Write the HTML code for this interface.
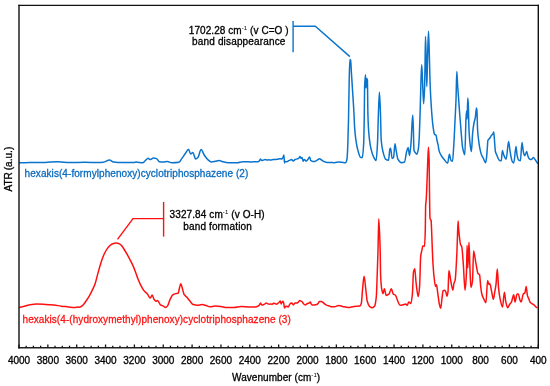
<!DOCTYPE html>
<html><head><meta charset="utf-8"><style>
html,body{margin:0;padding:0;background:#fff;}
body{width:550px;height:386px;overflow:hidden;}
svg{display:block;}
text{font-family:"Liberation Sans",Arial,sans-serif;font-size:10px;fill:#000;stroke:#000;stroke-width:0.3px;}
tspan.s{stroke-width:0;}
</style></head><body>
<svg width="550" height="386" viewBox="0 0 550 386">
<rect x="0" y="0" width="550" height="386" fill="#fff"/>
<g id="curves">
<path fill="none" stroke="#0a74cc" stroke-width="1.5" stroke-linejoin="round" d="M19.00,162.80C22.67,162.73 26.33,162.66 30.00,162.60C35.00,162.52 40.00,162.50 45.00,162.40C49.33,162.31 53.67,161.80 58.00,161.80C62.00,161.80 66.00,162.50 70.00,162.50C75.00,162.50 80.00,162.30 85.00,162.30C89.67,162.30 94.33,162.50 99.00,162.50C100.47,162.50 101.93,162.41 103.40,162.30C105.43,162.14 107.47,160.10 109.50,160.10C110.83,160.10 112.17,161.89 113.50,162.10C114.97,162.33 116.43,162.50 117.90,162.50C123.27,162.50 128.63,162.50 134.00,162.50C134.70,162.50 135.40,162.10 136.10,162.10C138.27,162.10 140.43,162.80 142.60,162.80C143.57,162.80 144.53,161.19 145.50,160.40C146.40,159.66 147.30,158.20 148.20,158.20C148.77,158.20 149.33,159.60 149.90,159.60C151.10,159.60 152.30,158.00 153.50,158.00C154.50,158.00 155.50,158.26 156.50,158.60C157.47,158.93 158.43,161.65 159.40,161.80C160.60,161.99 161.80,162.10 163.00,162.10C164.47,162.10 165.93,161.50 167.40,161.50C168.83,161.50 170.27,162.80 171.70,162.80C174.13,162.80 176.57,162.66 179.00,162.30C179.97,162.16 180.93,159.73 181.90,158.40C183.10,156.75 184.30,154.95 185.50,153.30C186.50,151.93 187.50,149.30 188.50,149.30C189.20,149.30 189.90,154.00 190.60,154.00C191.33,154.00 192.07,152.50 192.80,152.50C193.77,152.50 194.73,159.10 195.70,159.10C196.43,159.10 197.17,158.36 197.90,157.60C198.97,156.50 200.03,149.60 201.10,149.60C202.23,149.60 203.37,153.89 204.50,155.50C205.70,157.20 206.90,158.83 208.10,159.80C209.30,160.77 210.50,162.00 211.70,162.00C212.93,162.00 214.17,161.54 215.40,161.30C216.73,161.04 218.07,160.50 219.40,160.50C220.47,160.50 221.53,161.44 222.60,161.70C224.57,162.18 226.53,162.70 228.50,162.70C231.40,162.70 234.30,162.70 237.20,162.70C239.13,162.70 241.07,161.70 243.00,161.70C245.90,161.70 248.80,162.00 251.70,162.00C252.80,162.00 253.90,161.70 255.00,161.70C255.97,161.70 256.93,161.70 257.90,161.70C258.40,161.70 258.90,161.31 259.40,160.90C259.77,160.60 260.13,159.10 260.50,159.10C260.83,159.10 261.17,160.40 261.50,160.40C262.00,160.40 262.50,160.29 263.00,160.20C263.73,160.07 264.47,159.50 265.20,159.50C265.80,159.50 266.40,160.00 267.00,160.00C267.60,160.00 268.20,159.80 268.80,159.80C269.53,159.80 270.27,160.00 271.00,160.00C271.73,160.00 272.47,159.65 273.20,159.60C273.93,159.55 274.67,159.55 275.40,159.50C276.10,159.46 276.80,159.39 277.50,159.30C278.23,159.20 278.97,158.80 279.70,158.80C280.20,158.80 280.70,158.90 281.20,158.90C281.57,158.90 281.93,158.72 282.30,158.50C282.53,158.36 282.77,157.94 283.00,157.50C283.30,156.93 283.60,154.90 283.90,154.90C284.10,154.90 284.30,162.90 284.50,162.90C284.83,162.90 285.17,161.50 285.50,161.50C286.00,161.50 286.50,161.80 287.00,161.80C287.50,161.80 288.00,160.94 288.50,160.70C288.97,160.48 289.43,160.38 289.90,160.20C290.43,159.99 290.97,159.50 291.50,159.50C292.10,159.50 292.70,161.10 293.30,161.10C293.90,161.10 294.50,159.75 295.10,159.50C295.83,159.19 296.57,159.13 297.30,158.90C297.77,158.75 298.23,158.67 298.70,158.40C299.13,158.15 299.57,156.50 300.00,156.50C300.30,156.50 300.60,158.20 300.90,158.20C301.27,158.20 301.63,157.60 302.00,157.60C302.37,157.60 302.73,161.30 303.10,161.30C303.47,161.30 303.83,159.50 304.20,159.50C304.57,159.50 304.93,159.87 305.30,160.20C305.57,160.44 305.83,161.30 306.10,161.30C306.67,161.30 307.23,160.19 307.80,159.50C308.40,158.77 309.00,156.90 309.60,156.90C309.97,156.90 310.33,160.15 310.70,160.50C311.20,160.98 311.70,161.15 312.20,161.30C312.67,161.44 313.13,161.60 313.60,161.60C314.23,161.60 314.87,161.33 315.50,161.10C316.20,160.84 316.90,160.22 317.60,159.80C318.23,159.42 318.87,158.70 319.50,158.70C319.97,158.70 320.43,159.19 320.90,159.50C321.50,159.89 322.10,160.55 322.70,160.90C323.43,161.32 324.17,161.68 324.90,161.90C325.63,162.12 326.37,162.40 327.10,162.40C328.07,162.40 329.03,162.40 330.00,162.40C331.53,162.40 333.07,162.70 334.60,162.70C336.07,162.70 337.53,162.00 339.00,162.00C339.97,162.00 340.93,162.20 341.90,162.30C343.10,162.43 344.30,162.70 345.50,162.70C346.00,162.70 346.50,161.34 347.00,159.00C347.27,157.75 347.53,151.31 347.80,145.00C348.03,139.48 348.27,130.26 348.50,120.00C348.73,109.74 348.97,89.04 349.20,80.00C349.43,70.96 349.67,59.50 349.90,59.50C350.13,59.50 350.37,59.77 350.60,60.20C350.87,60.69 351.13,68.37 351.40,72.50C351.87,79.73 352.33,86.94 352.80,94.40C353.20,100.80 353.60,106.14 354.00,114.00C354.17,117.27 354.33,123.00 354.50,125.60C354.90,131.85 355.30,135.74 355.70,138.70C356.43,144.13 357.17,147.88 357.90,150.40C358.87,153.73 359.83,157.60 360.80,157.60C361.30,157.60 361.80,157.60 362.30,157.60C362.77,157.60 363.23,151.82 363.70,143.10C363.90,139.36 364.10,127.04 364.30,114.00C364.40,107.48 364.50,89.70 364.60,87.00C364.90,78.89 365.20,74.70 365.50,74.70C365.67,74.70 365.83,88.00 366.00,88.00C366.23,88.00 366.47,78.40 366.70,78.40C366.93,78.40 367.17,78.84 367.40,79.80C367.57,80.48 367.73,108.36 367.90,114.00C368.20,124.15 368.50,129.42 368.80,132.90C369.53,141.40 370.27,145.72 371.00,148.90C371.97,153.09 372.93,155.86 373.90,157.60C374.63,158.92 375.37,160.50 376.10,160.50C376.57,160.50 377.03,151.76 377.50,143.10C377.80,137.53 378.10,121.84 378.40,114.00C378.73,105.29 379.07,92.20 379.40,92.20C379.77,92.20 380.13,104.28 380.50,114.00C380.73,120.19 380.97,137.46 381.20,140.20C381.93,148.81 382.67,150.54 383.40,153.30C384.10,155.93 384.80,158.59 385.50,159.10C386.50,159.83 387.50,160.30 388.50,160.30C388.97,160.30 389.43,149.56 389.90,148.90C390.13,148.57 390.37,148.30 390.60,148.30C391.10,148.30 391.60,158.40 392.10,158.40C392.57,158.40 393.03,158.10 393.50,157.60C394.00,157.07 394.50,143.80 395.00,143.80C395.33,143.80 395.67,147.80 396.00,149.60C396.63,153.03 397.27,157.97 397.90,159.10C399.10,161.25 400.30,162.70 401.50,162.70C402.50,162.70 403.50,162.47 404.50,162.00C405.20,161.67 405.90,154.29 406.60,151.80C407.10,150.02 407.60,147.50 408.10,147.50C408.57,147.50 409.03,155.50 409.50,155.50C410.00,155.50 410.50,148.86 411.00,143.10C411.40,138.49 411.80,125.87 412.20,121.30C412.43,118.63 412.67,115.20 412.90,115.20C413.27,115.20 413.63,148.82 414.00,150.20C414.37,151.58 414.73,151.90 415.10,152.40C415.70,153.22 416.30,154.20 416.90,154.20C417.40,154.20 417.90,151.73 418.40,148.70C418.63,147.29 418.87,143.90 419.10,140.00C419.50,133.31 419.90,118.91 420.30,105.90C420.53,98.31 420.77,86.41 421.00,80.00C421.23,73.59 421.47,64.70 421.70,64.70C421.97,64.70 422.23,74.61 422.50,80.00C422.87,87.41 423.23,103.70 423.60,103.70C423.90,103.70 424.20,97.21 424.50,90.00C424.67,86.00 424.83,75.74 425.00,67.00C425.17,58.26 425.33,36.50 425.50,36.50C425.73,36.50 425.97,51.07 426.20,60.00C426.40,67.66 426.60,86.50 426.80,86.50C427.03,86.50 427.27,67.68 427.50,60.00C427.83,49.03 428.17,31.30 428.50,31.30C428.73,31.30 428.97,42.77 429.20,50.00C429.50,59.30 429.80,76.08 430.10,83.80C430.47,93.24 430.83,99.45 431.20,105.00C431.73,113.08 432.27,120.31 432.80,124.50C433.37,128.95 433.93,133.61 434.50,134.30C435.03,134.95 435.57,134.68 436.10,135.40C436.37,135.76 436.63,138.73 436.90,140.00C437.27,141.75 437.63,142.65 438.00,144.40C438.37,146.15 438.73,149.69 439.10,150.90C439.83,153.33 440.57,154.36 441.30,155.60C442.27,157.24 443.23,158.42 444.20,159.60C445.33,160.98 446.47,163.30 447.60,163.30C448.20,163.30 448.80,154.20 449.40,154.20C449.93,154.20 450.47,160.00 451.00,160.50C451.50,160.97 452.00,161.30 452.50,161.30C452.97,161.30 453.43,150.53 453.90,143.10C454.27,137.26 454.63,128.53 455.00,121.00C455.33,114.15 455.67,108.88 456.00,100.00C456.27,92.90 456.53,71.60 456.80,71.60C457.07,71.60 457.33,80.97 457.60,85.00C457.97,90.54 458.33,94.93 458.70,100.00C459.03,104.61 459.37,109.56 459.70,114.00C460.20,120.65 460.70,127.20 461.20,132.90C461.67,138.22 462.13,145.08 462.60,147.50C463.33,151.30 464.07,154.70 464.80,154.70C465.20,154.70 465.60,126.07 466.00,119.00C466.20,115.47 466.40,111.00 466.60,111.00C466.80,111.00 467.00,119.00 467.20,119.00C467.38,119.00 467.57,98.00 467.75,98.00C467.93,98.00 468.12,100.98 468.30,104.00C468.53,107.85 468.77,125.32 469.00,129.90C469.40,137.75 469.80,141.94 470.20,145.00C470.60,148.06 471.00,151.60 471.40,151.60C471.80,151.60 472.20,137.59 472.60,133.50C473.03,129.07 473.47,125.87 473.90,123.50C474.40,120.76 474.90,120.15 475.40,117.20C475.73,115.24 476.07,108.10 476.40,108.10C476.57,108.10 476.73,108.93 476.90,110.00C477.13,111.50 477.37,126.39 477.60,130.00C477.90,134.64 478.20,136.82 478.50,139.30C478.97,143.16 479.43,146.36 479.90,148.70C480.37,151.04 480.83,153.06 481.30,154.30C481.93,155.99 482.57,156.76 483.20,158.00C484.00,159.56 484.80,162.70 485.60,162.70C485.90,162.70 486.20,160.21 486.50,158.00C486.80,155.79 487.10,150.62 487.40,146.80C487.57,144.68 487.73,140.67 487.90,140.30C488.20,139.63 488.50,139.66 488.80,139.30C489.27,138.75 489.73,138.18 490.20,137.50C490.60,136.92 491.00,136.03 491.40,135.50C491.63,135.19 491.87,134.96 492.10,134.70C492.40,134.36 492.70,134.16 493.00,133.70C493.23,133.34 493.47,132.00 493.70,132.00C493.93,132.00 494.17,136.69 494.40,139.30C494.73,143.03 495.07,150.06 495.40,151.50C495.87,153.51 496.33,153.91 496.80,155.00C497.57,156.79 498.33,159.29 499.10,160.00C499.47,160.34 499.83,160.70 500.20,160.70C500.57,160.70 500.93,160.70 501.30,160.70C501.67,160.70 502.03,150.40 502.40,150.40C502.77,150.40 503.13,153.29 503.50,154.20C504.40,156.44 505.30,159.10 506.20,159.10C507.00,159.10 507.80,141.50 508.60,141.50C509.07,141.50 509.53,148.28 510.00,150.90C510.73,155.02 511.47,160.13 512.20,161.30C512.73,162.15 513.27,162.90 513.80,162.90C514.53,162.90 515.27,146.50 516.00,146.50C516.37,146.50 516.73,153.63 517.10,155.30C517.63,157.73 518.17,159.91 518.70,160.20C519.27,160.51 519.83,160.70 520.40,160.70C520.93,160.70 521.47,142.50 522.00,142.50C522.47,142.50 522.93,150.10 523.40,152.00C523.83,153.76 524.27,155.80 524.70,155.80C525.37,155.80 526.03,151.50 526.70,151.50C527.13,151.50 527.57,155.38 528.00,156.40C528.53,157.66 529.07,158.83 529.60,159.10C530.17,159.39 530.73,159.60 531.30,159.60C532.03,159.60 532.77,157.50 533.50,157.50C534.03,157.50 534.57,158.86 535.10,159.60C535.83,160.62 536.57,162.14 537.30,162.90C537.53,163.14 537.77,163.30 538.00,163.50"/>
<path fill="none" stroke="#ff1010" stroke-width="1.5" stroke-linejoin="round" d="M19.00,307.60C20.47,307.23 21.93,306.87 23.40,306.50C25.33,306.01 27.27,305.33 29.20,305.00C31.63,304.59 34.07,304.10 36.50,304.10C39.40,304.10 42.30,304.27 45.20,304.40C48.10,304.53 51.00,304.71 53.90,305.00C56.33,305.24 58.77,305.91 61.20,306.20C63.63,306.49 66.07,306.64 68.50,306.90C70.43,307.11 72.37,307.60 74.30,307.60C75.73,307.60 77.17,307.10 78.60,307.10C78.97,307.10 79.33,307.20 79.70,307.20C80.73,307.20 81.77,306.08 82.80,305.20C83.83,304.32 84.87,302.74 85.90,301.30C87.20,299.48 88.50,297.41 89.80,295.10C90.83,293.26 91.87,291.16 92.90,288.90C93.67,287.22 94.43,285.63 95.20,283.40C95.97,281.17 96.73,277.69 97.50,274.90C98.30,271.99 99.10,268.99 99.90,266.30C100.63,263.83 101.37,261.33 102.10,259.30C102.97,256.91 103.83,254.73 104.70,253.00C105.57,251.27 106.43,249.76 107.30,248.60C108.33,247.22 109.37,245.96 110.40,245.20C111.43,244.44 112.47,243.74 113.50,243.50C114.37,243.30 115.23,243.10 116.10,243.10C116.97,243.10 117.83,243.28 118.70,243.50C119.57,243.72 120.43,244.49 121.30,245.30C122.17,246.11 123.03,247.67 123.90,249.00C124.93,250.59 125.97,252.39 127.00,254.20C128.03,256.01 129.07,257.92 130.10,259.90C131.13,261.88 132.17,263.75 133.20,266.10C134.23,268.45 135.27,271.51 136.30,274.30C136.83,275.74 137.37,277.36 137.90,278.70C138.87,281.13 139.83,283.38 140.80,285.30C141.77,287.22 142.73,289.17 143.70,290.40C144.93,291.96 146.17,292.57 147.40,294.00C148.37,295.12 149.33,298.10 150.30,298.10C150.93,298.10 151.57,295.00 152.20,295.00C152.77,295.00 153.33,298.28 153.90,299.10C154.63,300.16 155.37,301.30 156.10,301.30C156.57,301.30 157.03,300.50 157.50,300.50C158.50,300.50 159.50,304.26 160.50,304.90C161.47,305.52 162.43,305.60 163.40,306.10C164.10,306.46 164.80,307.50 165.50,307.50C166.23,307.50 166.97,306.55 167.70,305.60C168.43,304.65 169.17,301.28 169.90,299.80C170.97,297.65 172.03,295.40 173.10,294.70C173.97,294.13 174.83,293.86 175.70,293.60C176.57,293.34 177.43,293.43 178.30,293.00C178.67,292.82 179.03,289.55 179.40,288.20C179.87,286.48 180.33,283.80 180.80,283.80C181.30,283.80 181.80,286.63 182.30,288.20C182.93,290.19 183.57,293.76 184.20,294.70C185.00,295.88 185.80,296.06 186.60,296.90C187.57,297.91 188.53,299.37 189.50,300.50C190.73,301.95 191.97,304.29 193.20,304.60C194.63,304.96 196.07,305.20 197.50,305.20C198.97,305.20 200.43,304.60 201.90,304.60C203.37,304.60 204.83,305.22 206.30,305.60C207.50,305.91 208.70,306.70 209.90,306.70C211.60,306.70 213.30,306.10 215.00,306.10C216.93,306.10 218.87,306.31 220.80,306.50C222.73,306.69 224.67,307.50 226.60,307.50C229.03,307.50 231.47,307.50 233.90,307.50C236.33,307.50 238.77,306.50 241.20,306.50C244.10,306.50 247.00,307.10 249.90,307.10C251.60,307.10 253.30,307.02 255.00,306.90C255.97,306.83 256.93,306.57 257.90,306.20C258.40,306.01 258.90,305.65 259.40,305.10C259.77,304.70 260.13,302.90 260.50,302.90C260.83,302.90 261.17,304.61 261.50,304.70C262.00,304.83 262.50,304.90 263.00,304.90C263.50,304.90 264.00,304.46 264.50,304.20C265.10,303.88 265.70,303.10 266.30,303.10C266.77,303.10 267.23,303.65 267.70,303.80C268.30,303.99 268.90,304.20 269.50,304.20C270.00,304.20 270.50,304.00 271.00,304.00C271.37,304.00 271.73,304.40 272.10,304.40C272.57,304.40 273.03,303.30 273.50,303.30C274.00,303.30 274.50,303.47 275.00,303.60C275.50,303.73 276.00,304.20 276.50,304.20C276.97,304.20 277.43,303.62 277.90,303.30C278.27,303.05 278.63,302.82 279.00,302.50C279.43,302.13 279.87,301.10 280.30,301.10C280.60,301.10 280.90,304.00 281.20,304.00C281.50,304.00 281.80,302.60 282.10,302.20C282.40,301.80 282.70,301.30 283.00,301.30C283.23,301.30 283.47,302.12 283.70,302.90C283.97,303.79 284.23,308.00 284.50,308.00C284.83,308.00 285.17,306.62 285.50,306.50C286.00,306.31 286.50,306.20 287.00,306.20C287.43,306.20 287.87,306.90 288.30,306.90C288.70,306.90 289.10,305.30 289.50,304.70C289.87,304.15 290.23,303.41 290.60,303.30C291.00,303.18 291.40,303.10 291.80,303.10C292.30,303.10 292.80,304.90 293.30,304.90C293.90,304.90 294.50,302.90 295.10,302.90C295.70,302.90 296.30,303.10 296.90,303.10C297.40,303.10 297.90,302.44 298.40,302.00C298.87,301.59 299.33,300.50 299.80,300.50C300.30,300.50 300.80,301.01 301.30,301.30C301.67,301.51 302.03,301.66 302.40,302.00C302.77,302.34 303.13,303.46 303.50,303.80C304.10,304.35 304.70,304.90 305.30,304.90C306.03,304.90 306.77,303.82 307.50,303.50C308.10,303.24 308.70,303.19 309.30,302.90C309.67,302.72 310.03,302.00 310.40,302.00C310.63,302.00 310.87,303.45 311.10,303.80C311.47,304.35 311.83,304.90 312.20,304.90C312.93,304.90 313.67,304.90 314.40,304.90C315.23,304.90 316.07,304.75 316.90,304.50C317.27,304.39 317.63,303.89 318.00,303.50C318.50,302.96 319.00,301.50 319.50,301.50C320.10,301.50 320.70,301.54 321.30,301.60C321.90,301.66 322.50,302.11 323.10,302.50C323.70,302.89 324.30,303.78 324.90,304.20C325.63,304.71 326.37,305.15 327.10,305.40C328.07,305.73 329.03,305.69 330.00,306.10C330.23,306.20 330.47,306.70 330.70,306.70C331.93,306.70 333.17,306.70 334.40,306.70C335.83,306.70 337.27,305.60 338.70,305.60C339.93,305.60 341.17,306.15 342.40,306.40C344.33,306.79 346.27,307.50 348.20,307.50C350.13,307.50 352.07,306.56 354.00,306.40C355.93,306.24 357.87,306.34 359.80,306.10C360.30,306.04 360.80,305.02 361.30,303.50C361.77,302.08 362.23,291.89 362.70,287.50C363.17,283.11 363.63,276.30 364.10,276.30C364.63,276.30 365.17,284.25 365.70,288.50C366.20,292.48 366.70,299.12 367.20,301.00C367.97,303.88 368.73,305.67 369.50,306.30C370.47,307.09 371.43,307.70 372.40,307.70C373.10,307.70 373.80,307.15 374.50,306.30C375.10,305.58 375.70,302.40 376.30,296.80C376.60,294.00 376.90,283.07 377.20,275.00C377.47,267.82 377.73,260.08 378.00,250.90C378.27,241.72 378.53,218.80 378.80,218.80C379.27,218.80 379.73,233.99 380.20,250.90C380.33,255.73 380.47,271.98 380.60,275.00C381.00,284.06 381.40,287.37 381.80,289.50C382.20,291.63 382.60,293.60 383.00,293.60C383.47,293.60 383.93,288.80 384.40,288.80C385.00,288.80 385.60,295.40 386.20,295.40C387.17,295.40 388.13,294.74 389.10,293.90C389.83,293.26 390.57,288.80 391.30,288.80C391.93,288.80 392.57,293.24 393.20,293.90C394.00,294.73 394.80,294.58 395.60,295.40C396.33,296.15 397.07,299.60 397.80,301.20C398.53,302.80 399.27,305.30 400.00,305.30C400.97,305.30 401.93,304.99 402.90,304.80C403.87,304.61 404.83,304.10 405.80,304.10C406.30,304.10 406.80,305.30 407.30,305.30C407.77,305.30 408.23,301.90 408.70,301.90C409.43,301.90 410.17,303.40 410.90,303.40C411.40,303.40 411.90,298.84 412.40,293.90C412.77,290.28 413.13,273.64 413.50,272.00C413.93,270.06 414.37,268.80 414.80,268.80C415.20,268.80 415.60,278.62 416.00,282.00C416.73,288.20 417.47,296.50 418.20,296.50C418.67,296.50 419.13,291.98 419.60,286.60C419.97,282.37 420.33,259.30 420.70,256.20C421.07,253.10 421.43,252.43 421.80,250.70C422.17,248.97 422.53,245.80 422.90,245.80C423.43,245.80 423.97,246.40 424.50,246.40C424.77,246.40 425.03,239.52 425.30,230.00C425.40,226.43 425.50,208.51 425.60,206.40C425.80,202.19 426.00,202.64 426.20,199.80C426.37,197.43 426.53,193.73 426.70,190.00C427.07,181.80 427.43,167.87 427.80,160.00C428.03,154.99 428.27,147.30 428.50,147.30C428.70,147.30 428.90,153.35 429.10,160.00C429.30,166.65 429.50,196.21 429.70,206.40C429.80,211.49 429.90,217.96 430.00,218.40C430.37,220.02 430.73,219.08 431.10,220.50C431.27,221.14 431.43,226.28 431.60,230.00C431.80,234.46 432.00,241.65 432.20,246.40C432.53,254.32 432.87,262.22 433.20,267.00C433.60,272.73 434.00,276.98 434.40,280.00C434.77,282.76 435.13,286.40 435.50,286.40C435.83,286.40 436.17,284.70 436.50,284.70C436.87,284.70 437.23,289.34 437.60,291.80C438.17,295.61 438.73,301.37 439.30,303.80C439.77,305.80 440.23,308.20 440.70,308.20C441.13,308.20 441.57,301.54 442.00,298.40C442.37,295.74 442.73,290.93 443.10,290.70C443.63,290.36 444.17,290.20 444.70,290.20C445.07,290.20 445.43,291.02 445.80,291.80C446.17,292.58 446.53,296.20 446.90,296.20C447.27,296.20 447.63,294.37 448.00,291.80C448.30,289.70 448.60,270.60 448.90,270.60C449.50,270.60 450.10,277.45 450.70,280.40C451.43,284.01 452.17,290.20 452.90,290.20C453.27,290.20 453.63,284.40 454.00,283.10C454.37,281.80 454.73,281.87 455.10,280.40C455.70,278.00 456.30,265.30 456.90,252.50C457.10,248.23 457.30,240.21 457.50,235.00C457.70,229.79 457.90,220.90 458.10,220.90C458.27,220.90 458.43,226.38 458.60,228.40C459.00,233.25 459.40,236.96 459.80,240.00C460.03,241.77 460.27,243.82 460.50,244.50C460.90,245.66 461.30,245.44 461.70,246.60C462.30,248.33 462.90,258.24 463.50,267.00C463.73,270.41 463.97,276.68 464.20,280.00C464.50,284.27 464.80,290.20 465.10,290.20C465.57,290.20 466.03,282.14 466.50,272.00C466.70,267.65 466.90,245.20 467.10,245.20C467.33,245.20 467.57,268.00 467.80,268.00C468.20,268.00 468.60,242.30 469.00,242.30C469.33,242.30 469.67,262.41 470.00,270.00C470.30,276.83 470.60,287.50 470.90,287.50C471.43,287.50 471.97,284.90 472.50,280.90C472.87,278.15 473.23,251.00 473.60,251.00C474.33,251.00 475.07,258.85 475.80,262.60C476.53,266.35 477.27,272.45 478.00,273.50C478.53,274.27 479.07,273.99 479.60,274.90C479.97,275.52 480.33,283.35 480.70,286.40C481.07,289.45 481.43,292.57 481.80,294.00C482.37,296.21 482.93,297.19 483.50,298.40C484.30,300.11 485.10,302.70 485.90,302.70C486.47,302.70 487.03,280.50 487.60,280.50C488.03,280.50 488.47,284.40 488.90,284.40C489.23,284.40 489.57,283.80 489.90,283.80C490.43,283.80 490.97,288.54 491.50,290.90C492.13,293.71 492.77,299.30 493.40,299.30C493.83,299.30 494.27,294.68 494.70,292.20C495.13,289.72 495.57,287.86 496.00,284.40C496.43,280.94 496.87,268.90 497.30,268.90C497.73,268.90 498.17,284.17 498.60,288.30C499.17,293.70 499.73,297.35 500.30,299.90C501.03,303.19 501.77,307.10 502.50,307.10C503.13,307.10 503.77,292.20 504.40,292.20C504.83,292.20 505.27,299.17 505.70,301.20C506.33,304.16 506.97,307.70 507.60,307.70C508.27,307.70 508.93,305.48 509.60,304.50C510.23,303.57 510.87,303.11 511.50,301.90C512.23,300.50 512.97,294.80 513.70,294.80C514.13,294.80 514.57,301.90 515.00,301.90C515.70,301.90 516.40,294.10 517.10,294.10C517.53,294.10 517.97,294.10 518.40,294.10C518.90,294.10 519.40,298.81 519.90,299.90C520.33,300.84 520.77,301.90 521.20,301.90C521.87,301.90 522.53,294.94 523.20,294.10C523.77,293.39 524.33,293.58 524.90,292.80C525.33,292.21 525.77,286.40 526.20,286.40C526.60,286.40 527.00,293.91 527.40,295.40C527.83,297.02 528.27,297.54 528.70,298.60C529.23,299.91 529.77,301.92 530.30,302.50C530.93,303.19 531.57,303.38 532.20,303.80C532.87,304.24 533.53,304.56 534.20,305.10C534.83,305.61 535.47,306.70 536.10,307.10C536.53,307.37 536.97,307.50 537.40,307.70"/>
<g stroke="#0a74cc" stroke-width="1.4" fill="none">
<line x1="293.1" y1="20.9" x2="293.1" y2="52.3"/>
<polyline points="293.1,26.3 315.3,26.3 349.9,56.6"/>
</g>
<g stroke="#ff1010" stroke-width="1.4" fill="none">
<line x1="163.6" y1="202" x2="163.6" y2="236.6"/>
<polyline points="163.6,218.6 133,218.6 117.5,239.3"/>
</g>
<g stroke="#111" fill="none" stroke-linecap="square">
<line x1="19" y1="5.4" x2="538.3" y2="5.4" stroke-width="1.3"/>
<line x1="19" y1="347.7" x2="538.3" y2="347.7" stroke-width="1.4" stroke="#222"/>
<line x1="19" y1="5.4" x2="19" y2="347.7" stroke-width="1.4" stroke="#111"/>
<line x1="538.3" y1="5.4" x2="538.3" y2="347.7" stroke-width="1.4"/>
</g>
<g stroke="#111" stroke-width="1.3"><line x1="19.00" y1="347.7" x2="19.00" y2="344.5"/><line x1="26.21" y1="347.7" x2="26.21" y2="345.7"/><line x1="33.42" y1="347.7" x2="33.42" y2="345.7"/><line x1="40.64" y1="347.7" x2="40.64" y2="345.7"/><line x1="47.85" y1="347.7" x2="47.85" y2="344.5"/><line x1="55.06" y1="347.7" x2="55.06" y2="345.7"/><line x1="62.27" y1="347.7" x2="62.27" y2="345.7"/><line x1="69.49" y1="347.7" x2="69.49" y2="345.7"/><line x1="76.70" y1="347.7" x2="76.70" y2="344.5"/><line x1="83.91" y1="347.7" x2="83.91" y2="345.7"/><line x1="91.12" y1="347.7" x2="91.12" y2="345.7"/><line x1="98.34" y1="347.7" x2="98.34" y2="345.7"/><line x1="105.55" y1="347.7" x2="105.55" y2="344.5"/><line x1="112.76" y1="347.7" x2="112.76" y2="345.7"/><line x1="119.97" y1="347.7" x2="119.97" y2="345.7"/><line x1="127.19" y1="347.7" x2="127.19" y2="345.7"/><line x1="134.40" y1="347.7" x2="134.40" y2="344.5"/><line x1="141.61" y1="347.7" x2="141.61" y2="345.7"/><line x1="148.82" y1="347.7" x2="148.82" y2="345.7"/><line x1="156.04" y1="347.7" x2="156.04" y2="345.7"/><line x1="163.25" y1="347.7" x2="163.25" y2="344.5"/><line x1="170.46" y1="347.7" x2="170.46" y2="345.7"/><line x1="177.68" y1="347.7" x2="177.68" y2="345.7"/><line x1="184.89" y1="347.7" x2="184.89" y2="345.7"/><line x1="192.10" y1="347.7" x2="192.10" y2="344.5"/><line x1="199.31" y1="347.7" x2="199.31" y2="345.7"/><line x1="206.52" y1="347.7" x2="206.52" y2="345.7"/><line x1="213.74" y1="347.7" x2="213.74" y2="345.7"/><line x1="220.95" y1="347.7" x2="220.95" y2="344.5"/><line x1="228.16" y1="347.7" x2="228.16" y2="345.7"/><line x1="235.37" y1="347.7" x2="235.37" y2="345.7"/><line x1="242.59" y1="347.7" x2="242.59" y2="345.7"/><line x1="249.80" y1="347.7" x2="249.80" y2="344.5"/><line x1="257.01" y1="347.7" x2="257.01" y2="345.7"/><line x1="264.22" y1="347.7" x2="264.22" y2="345.7"/><line x1="271.44" y1="347.7" x2="271.44" y2="345.7"/><line x1="278.65" y1="347.7" x2="278.65" y2="344.5"/><line x1="285.86" y1="347.7" x2="285.86" y2="345.7"/><line x1="293.07" y1="347.7" x2="293.07" y2="345.7"/><line x1="300.29" y1="347.7" x2="300.29" y2="345.7"/><line x1="307.50" y1="347.7" x2="307.50" y2="344.5"/><line x1="314.71" y1="347.7" x2="314.71" y2="345.7"/><line x1="321.93" y1="347.7" x2="321.93" y2="345.7"/><line x1="329.14" y1="347.7" x2="329.14" y2="345.7"/><line x1="336.35" y1="347.7" x2="336.35" y2="344.5"/><line x1="343.56" y1="347.7" x2="343.56" y2="345.7"/><line x1="350.77" y1="347.7" x2="350.77" y2="345.7"/><line x1="357.99" y1="347.7" x2="357.99" y2="345.7"/><line x1="365.20" y1="347.7" x2="365.20" y2="344.5"/><line x1="372.41" y1="347.7" x2="372.41" y2="345.7"/><line x1="379.62" y1="347.7" x2="379.62" y2="345.7"/><line x1="386.84" y1="347.7" x2="386.84" y2="345.7"/><line x1="394.05" y1="347.7" x2="394.05" y2="344.5"/><line x1="401.26" y1="347.7" x2="401.26" y2="345.7"/><line x1="408.47" y1="347.7" x2="408.47" y2="345.7"/><line x1="415.69" y1="347.7" x2="415.69" y2="345.7"/><line x1="422.90" y1="347.7" x2="422.90" y2="344.5"/><line x1="430.11" y1="347.7" x2="430.11" y2="345.7"/><line x1="437.32" y1="347.7" x2="437.32" y2="345.7"/><line x1="444.54" y1="347.7" x2="444.54" y2="345.7"/><line x1="451.75" y1="347.7" x2="451.75" y2="344.5"/><line x1="458.96" y1="347.7" x2="458.96" y2="345.7"/><line x1="466.17" y1="347.7" x2="466.17" y2="345.7"/><line x1="473.39" y1="347.7" x2="473.39" y2="345.7"/><line x1="480.60" y1="347.7" x2="480.60" y2="344.5"/><line x1="487.81" y1="347.7" x2="487.81" y2="345.7"/><line x1="495.02" y1="347.7" x2="495.02" y2="345.7"/><line x1="502.24" y1="347.7" x2="502.24" y2="345.7"/><line x1="509.45" y1="347.7" x2="509.45" y2="344.5"/><line x1="516.66" y1="347.7" x2="516.66" y2="345.7"/><line x1="523.88" y1="347.7" x2="523.88" y2="345.7"/><line x1="531.09" y1="347.7" x2="531.09" y2="345.7"/><line x1="538.30" y1="347.7" x2="538.30" y2="344.5"/></g>
</g>
<g id="ticklabels" text-anchor="middle" style="stroke-width:0.3px"><text x="19.00" y="363.6">4000</text><text x="47.85" y="363.6">3800</text><text x="76.70" y="363.6">3600</text><text x="105.55" y="363.6">3400</text><text x="134.40" y="363.6">3200</text><text x="163.25" y="363.6">3000</text><text x="192.10" y="363.6">2800</text><text x="220.95" y="363.6">2600</text><text x="249.80" y="363.6">2400</text><text x="278.65" y="363.6">2200</text><text x="307.50" y="363.6">2000</text><text x="336.35" y="363.6">1800</text><text x="365.20" y="363.6">1600</text><text x="394.05" y="363.6">1400</text><text x="422.90" y="363.6">1200</text><text x="451.75" y="363.6">1000</text><text x="480.60" y="363.6">800</text><text x="509.45" y="363.6">600</text><text x="538.30" y="363.6">400</text></g>
<text id="c1702" x="188.75" y="33.5" textLength="99.90" lengthAdjust="spacing">1702.28 cm<tspan class="s" font-size="6" dy="-3.8">-1</tspan><tspan dy="3.8"> (v C=O )</tspan></text>
<text id="banddis" x="192.10" y="44.5" textLength="93.29" lengthAdjust="spacing">band disappearance</text>
<text id="c3327" x="169.60" y="217.9" textLength="95.06" lengthAdjust="spacing">3327.84 cm<tspan class="s" font-size="6" dy="-3.8">-1</tspan><tspan dy="3.8"> (v O-H)</tspan></text>
<text id="bandform" x="183.30" y="229.5" textLength="68.52" lengthAdjust="spacing">band formation</text>
<text id="bluelab" x="24.60" y="177" style="fill:#0c6cbf;stroke:#0c6cbf;stroke-width:0.3px" textLength="223.66" lengthAdjust="spacing">hexakis(4-formylphenoxy)cyclotriphosphazene (2)</text>
<text id="redlab" x="22.50" y="322.7" style="fill:#ff1010;stroke:#ff1010;stroke-width:0.26px" textLength="268.26" lengthAdjust="spacing">hexakis(4-(hydroxymethyl)phenoxy)cyclotriphosphazene (3)</text>
<text id="wave" style="stroke-width:0.3px" x="232.00" y="380.6" textLength="88.13" lengthAdjust="spacing">Wavenumber (cm<tspan class="s" font-size="6" dy="-3.8">-1</tspan><tspan dy="3.8">)</tspan></text>
<text id="atr" transform="translate(12.2,191.6) rotate(-90)" style="font-size:10.4px" textLength="44.9" lengthAdjust="spacingAndGlyphs">ATR<tspan font-size="7"> </tspan>(a.u.)</text>
</svg>
</body></html>
